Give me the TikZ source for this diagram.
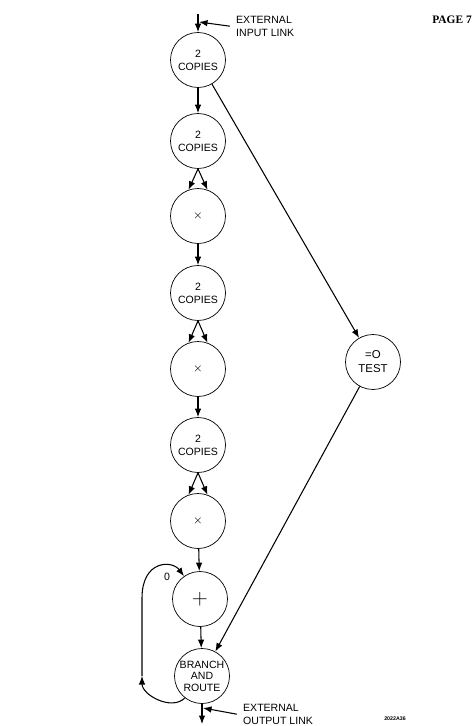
\documentclass[tikz,border=0pt]{standalone}
\usepackage{fontspec}
\setsansfont{Liberation Sans}
\newfontfamily\pagefont{Liberation Serif}
\usetikzlibrary{arrows.meta}

\begin{document}
\begin{tikzpicture}[x=0.02cm,y=0.02cm,
        op/.style={draw,circle,minimum size=1.1cm,inner sep=0pt,align=center,font=\fontsize{6}{7.5}\selectfont\sffamily},
        note/.style={align=left,font=\fontsize{6}{7.2}\selectfont\sffamily},
        flow/.style={line width=0.6pt,-{Latex[length=1.7mm,width=1.3mm]}}]
                \useasboundingbox (0,0) rectangle (474,-726);
                \node[anchor=west,inner sep=0pt,font=\fontsize{6.5}{8}\selectfont\pagefont\bfseries] (page) at (432,-20) {PAGE 7};

                \node[op] (cpA) at (198,-60) {2\\COPIES};
                \node[op] (cpB) at (198,-141) {2\\COPIES};
                \node[op] (mulA) at (198,-216) {$\times$};
                \node[op] (cpC) at (198,-293) {2\\COPIES};
                \node[op] (mulB) at (198,-369) {$\times$};
                \node[op] (cpD) at (198,-445) {2\\COPIES};
                \node[op] (mulC) at (198,-521) {$\times$};
                \node[op,font=\large] (add) at (200,-599) {$+$};
                \node[op,font=\fontsize{6}{6.6}\selectfont\sffamily] (br) at (202,-676) {BRANCH\\AND\\ROUTE};
                \node[op,font=\fontsize{6.5}{8}\selectfont\sffamily] (test) at (373,-362) {=O\\TEST};

                % input and output links
                \coordinate (in) at (198,-14);
                \coordinate (out) at (202,-724);
                \node[note,anchor=north west] (inlbl) at (230,-10) {EXTERNAL\\INPUT LINK};
                \node[note,anchor=north west] (outlbl) at (237,-698) {EXTERNAL\\OUTPUT LINK};
                \draw[flow] (in) -- (cpA);
                \draw[flow] (inlbl.west) -- (199,-22);
                \draw[flow] (br) -- (out);
                \draw[flow] (outlbl.west) -- (203,-708);

                % main chain
                \draw[flow] (cpA) -- (cpB);
                \draw[flow] (cpB.south) -- (mulA.110);
                \draw[flow] (cpB.south) -- (mulA.70);
                \draw[flow] (mulA) -- (cpC);
                \draw[flow] (cpC.south) -- (mulB.110);
                \draw[flow] (cpC.south) -- (mulB.70);
                \draw[flow] (mulB) -- (cpD);
                \draw[flow] (cpD.south) -- (mulC.110);
                \draw[flow] (cpD.south) -- (mulC.70);
                \draw[flow] (mulC) -- (add);
                \draw[flow] (add) -- (br);

                % test branch
                \draw[flow] (cpA) -- (test);
                \draw[flow] (test) -- (br);

                % feedback loop
                \coordinate (lpmid) at (142,-676);
                \coordinate (lptop) at (142,-598);
                \draw[flow] (br.232) to[out=225,in=-90] (lpmid);
                \draw[flow] (lpmid) -- (lptop) .. controls (142,-560) and (172,-560) .. (add.125);
                \node[font=\fontsize{6}{7}\selectfont\sffamily] (zero) at (167,-577) {0};

                \node[font=\fontsize{3}{3}\selectfont\sffamily\bfseries] (code) at (395,-719) {2022A36};
            \end{tikzpicture}
\end{document}
